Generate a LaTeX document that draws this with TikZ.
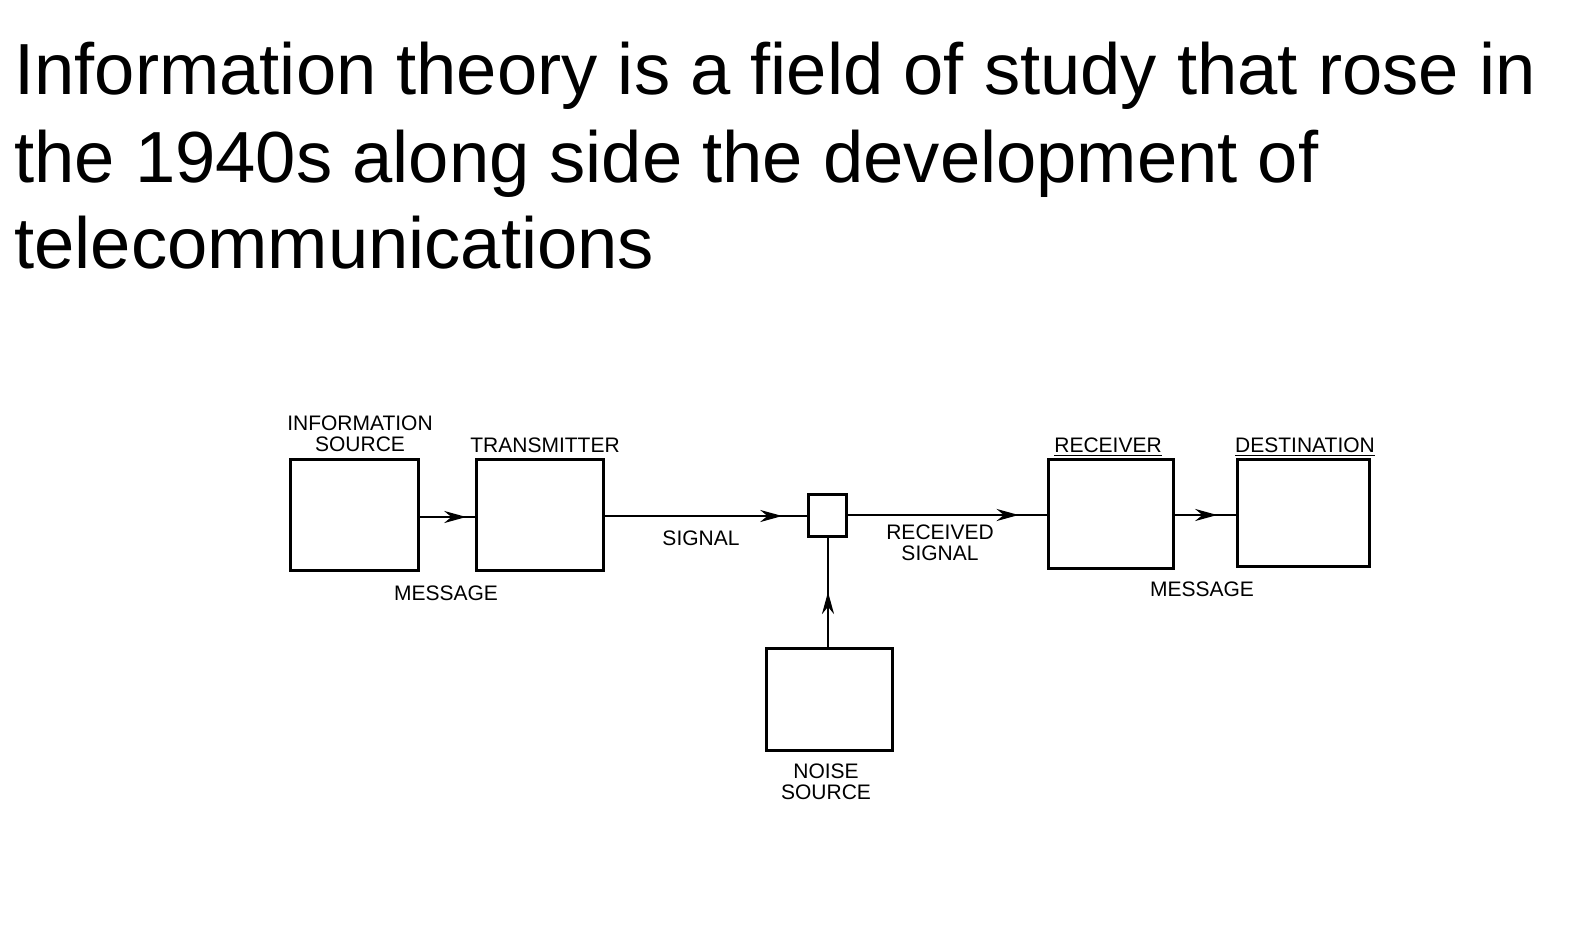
\documentclass[tikz,border=0pt]{standalone}
\usepackage{fontspec}
\setmainfont{Liberation Sans}
\usetikzlibrary{decorations.markings,arrows.meta}
\begin{document}
\begin{tikzpicture}[x=0.5pt,y=-0.5pt,
  blk/.style={draw,line width=1.5pt,minimum width=0pt,inner sep=0pt},
  ttl/.style={anchor=base west,font=\fontsize{36.2}{43.5}\selectfont,inner sep=0pt},
  lab/.style={font=\fontsize{10.5}{10.5}\selectfont,align=center,inner sep=0pt},
  wire/.style={line width=1.3pt,postaction={decorate},decoration={markings,mark=at position #1 with {\arrow{Stealth[length=11pt,width=6pt]}}}}]
\useasboundingbox (0,0) rectangle (1594,931);
\node[ttl] (t1) at (14,95) {Information theory is a field of study that rose in};
\node[ttl] (t2) at (14,182) {the 1940s along side the development of};
\node[ttl] (t3) at (14,268) {telecommunications};
\node[blk,minimum width=64pt,minimum height=55.5pt] (src) at (354,514.5) {};
\node[blk,minimum width=63.5pt,minimum height=55.5pt] (tx) at (539.5,514.5) {};
\node[blk,minimum width=19pt,minimum height=21pt] (ch) at (827,515) {};
\node[blk,minimum width=62.5pt,minimum height=54.5pt] (rx) at (1110.5,513.5) {};
\node[blk,minimum width=66pt,minimum height=53.5pt] (dst) at (1303,512.5) {};
\node[blk,minimum width=63pt,minimum height=51pt] (ns) at (829,699) {};
\draw[wire=0.85] (src.east|-0,517) -- (tx.west|-0,517);
\draw[wire=0.88] (tx.east|-0,516) -- (ch.west|-0,516);
\draw[wire=0.86] (ch.east|-0,515) -- (rx.west|-0,515);
\draw[wire=0.7] (rx.east|-0,515) -- (dst.west|-0,515);
\draw[wire=0.5] (ns.north-|828,0) -- (ch.south-|828,0);
\node[lab] (l1) at (360,434) {INFORMATION\\SOURCE};
\node[lab] (l2) at (545,445) {TRANSMITTER};
\node[lab] (l3) at (701,538) {SIGNAL};
\node[lab] (l4) at (940,543) {RECEIVED\\SIGNAL};
\node[lab] (l5) at (446,593) {MESSAGE};
\node[lab] (l6) at (1108,447) {\underline{RECEIVER}};
\node[lab] (l7) at (1305,447) {\underline{DESTINATION}};
\node[lab] (l8) at (1202,589) {MESSAGE};
\node[lab] (l9) at (826,782) {NOISE\\SOURCE};
\end{tikzpicture}
\end{document}
